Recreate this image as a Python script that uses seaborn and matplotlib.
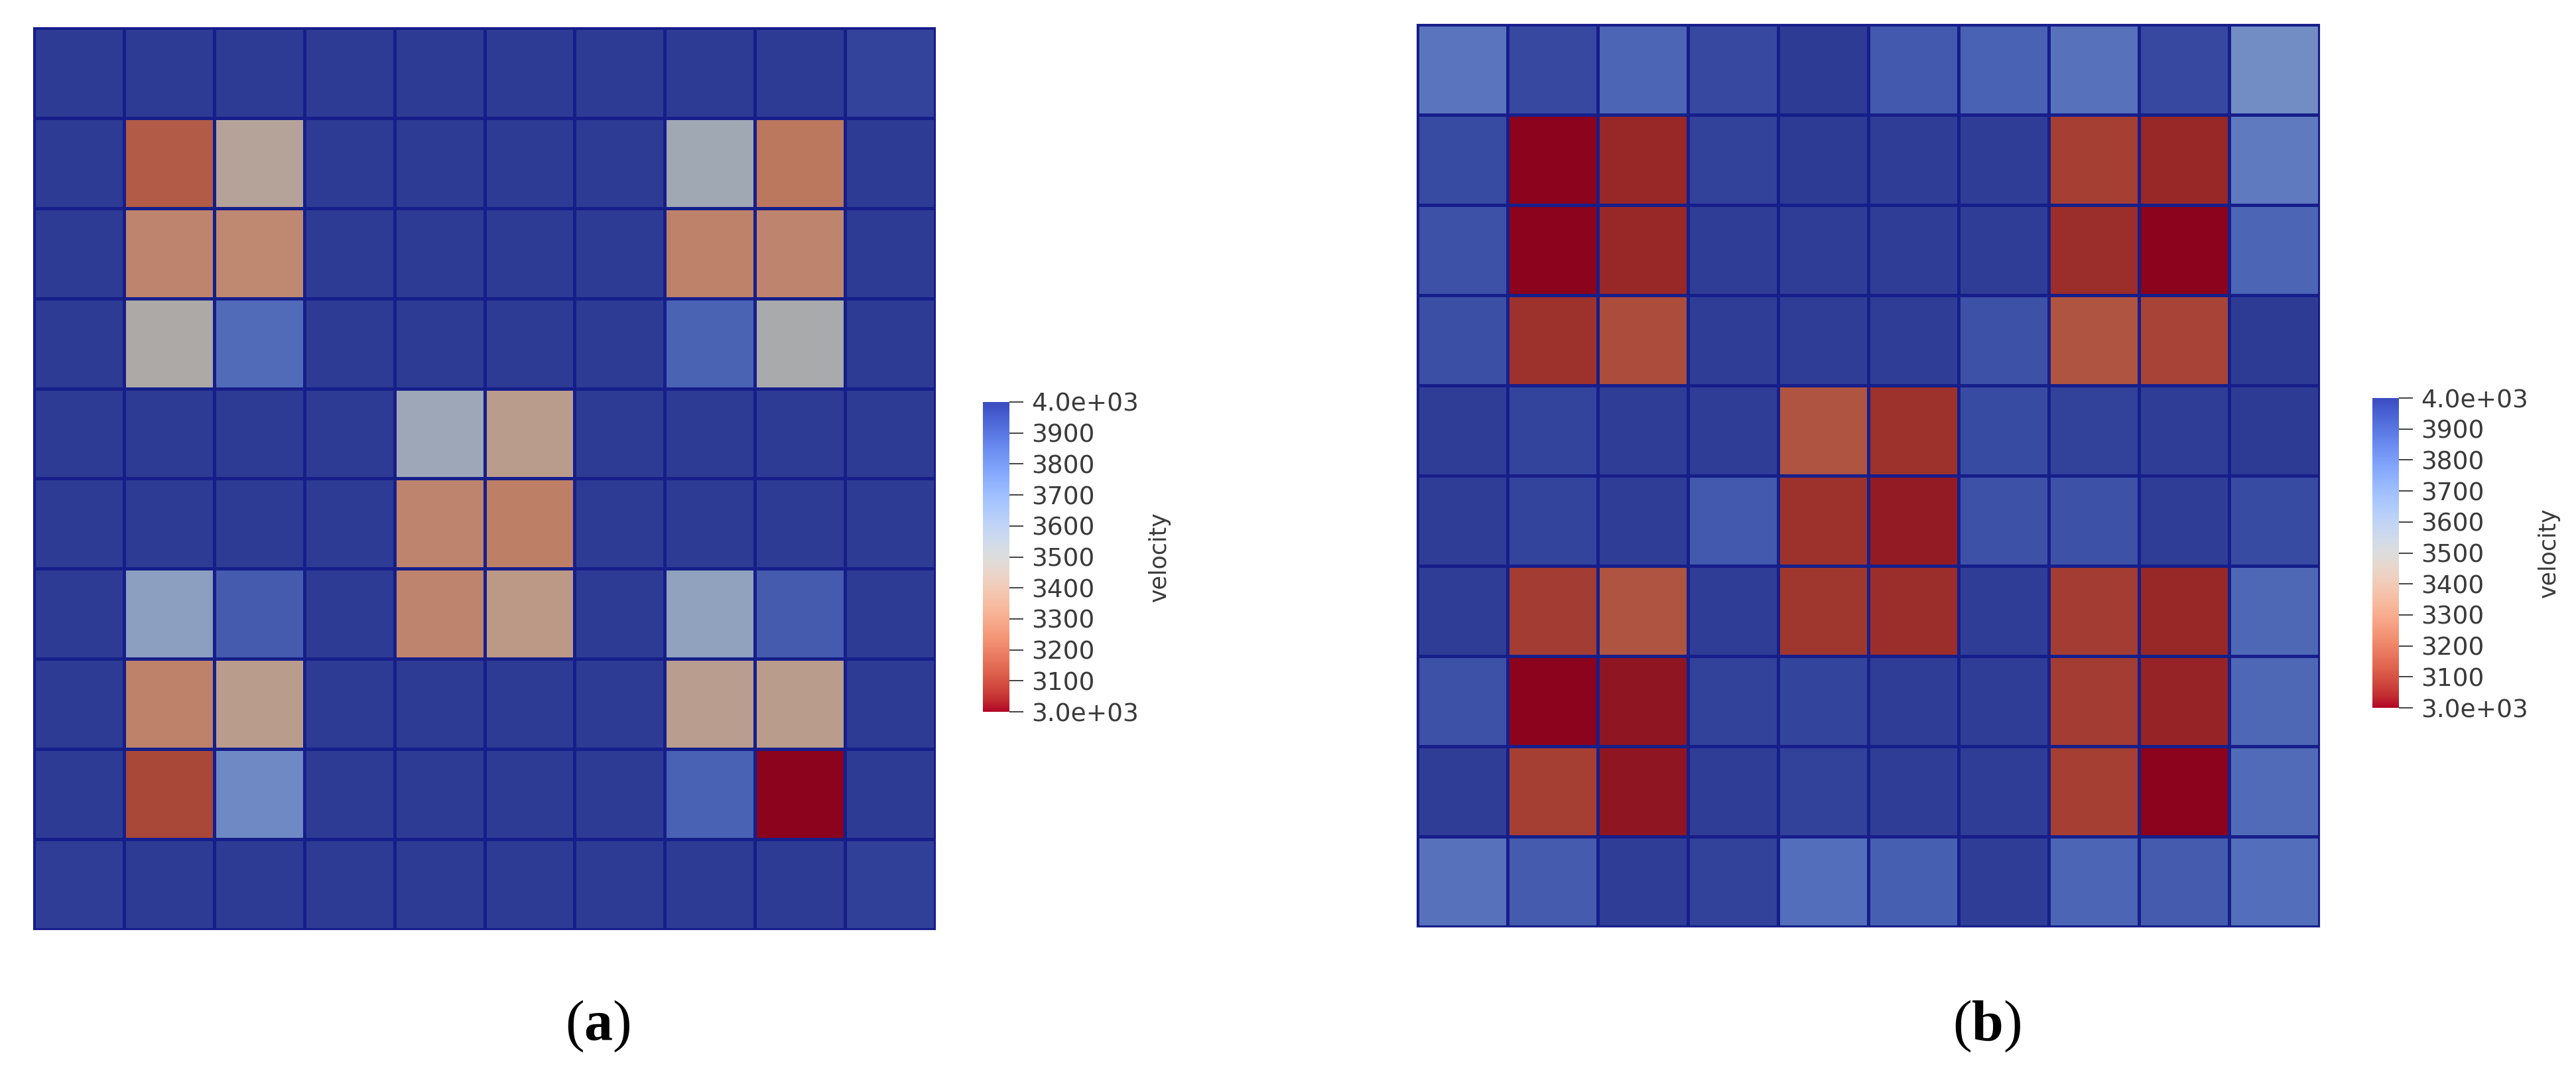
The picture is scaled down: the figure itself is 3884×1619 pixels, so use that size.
import numpy as np
import matplotlib
matplotlib.use("Agg")
import matplotlib.pyplot as plt
from matplotlib.colors import ListedColormap, Normalize
from matplotlib.cm import ScalarMappable
import seaborn as sns

sns.set_theme(style="white")
plt.rcParams['font.family'] = ['DejaVu Sans']
plt.rcParams['mathtext.fontset'] = 'custom'
plt.rcParams['mathtext.rm'] = 'Liberation Serif'
plt.rcParams['mathtext.bf'] = 'Liberation Serif:bold'

# velocity fields (10x10 cells, top row first)
velocity_a = [
    [4000, 4000, 4000, 4000, 4000, 4000, 4000, 4000, 4000, 3975],
    [4000, 3170, 3440, 4000, 4000, 4000, 4000, 3550, 3250, 4000],
    [4000, 3300, 3310, 4000, 4000, 4000, 4000, 3290, 3300, 4000],
    [4000, 3490, 3850, 4000, 4000, 4000, 4000, 3875, 3510, 4000],
    [4000, 4000, 4000, 4000, 3560, 3400, 4000, 4000, 4000, 4000],
    [4000, 4000, 4000, 4000, 3300, 3280, 4000, 4000, 4000, 4000],
    [4000, 3630, 3900, 4000, 3300, 3380, 4000, 3610, 3900, 4000],
    [4000, 3290, 3400, 4000, 4000, 4000, 4000, 3410, 3400, 4000],
    [4000, 3120, 3740, 4000, 4000, 4000, 4000, 3880, 3000, 4000],
    [3990, 4000, 4000, 4000, 4000, 4000, 4000, 4000, 4000, 3985],
]
velocity_b = [
    [3820, 3960, 3870, 3960, 4000, 3910, 3880, 3830, 3960, 3730],
    [3950, 3000, 3050, 3980, 4000, 3990, 3990, 3100, 3050, 3800],
    [3930, 3000, 3050, 3990, 3990, 3990, 3990, 3060, 3000, 3870],
    [3940, 3070, 3130, 3990, 3990, 3990, 3930, 3150, 3110, 4000],
    [3990, 3970, 3990, 3990, 3150, 3070, 3950, 3980, 3990, 4000],
    [3990, 3970, 3990, 3910, 3070, 3030, 3930, 3930, 3990, 3950],
    [3990, 3090, 3150, 3990, 3080, 3060, 3990, 3090, 3050, 3860],
    [3930, 3000, 3020, 3980, 3970, 3990, 3990, 3090, 3040, 3860],
    [3990, 3100, 3020, 3990, 3980, 3990, 3990, 3100, 3000, 3850],
    [3830, 3900, 3990, 3980, 3840, 3890, 3990, 3870, 3900, 3840],
]
cbar_ticks = [3000, 3100, 3200, 3300, 3400, 3500, 3600, 3700, 3800, 3900, 4000]
cbar_ticklabels = ["3.0e+03", "3100", "3200", "3300", "3400", "3500",
                   "3600", "3700", "3800", "3900", "4.0e+03"]
cbar_label = "velocity"
panel_labels = ["a", "b"]

vmin, vmax = 3000, 4000
base = plt.get_cmap("coolwarm_r")
cols = base(np.linspace(0, 1, 256))
cols[:, :3] *= 0.77          # shaded cell colours as rendered
cell_cmap = ListedColormap(cols)

fig = plt.figure(figsize=(38.84, 16.19), dpi=100)

ax_rects = [[0.01313, 0.1347, 0.3499, 0.8394], [0.5502, 0.1371, 0.3502, 0.8400]]
cax_rects = [[0.3816, 0.3372, 0.0103, 0.2885], [0.9210, 0.3409, 0.0103, 0.2885]]
label_pos = [(0.232, 0.0439), (0.7714, 0.0439)]

for data, r, cr, lp, name in zip([velocity_a, velocity_b], ax_rects, cax_rects,
                                 label_pos, panel_labels):
    ax = fig.add_axes(r)
    sns.heatmap(np.array(data, dtype=float), ax=ax, cmap=cell_cmap, vmin=vmin, vmax=vmax,
                cbar=False, linewidths=2.2, linecolor="#161e8a",
                xticklabels=False, yticklabels=False, square=False)
    for s in ax.spines.values():
        s.set_visible(True)
        s.set_color("#161e8a")
        s.set_linewidth(1.5)

    cax = fig.add_axes(cr)
    sm = ScalarMappable(norm=Normalize(vmin, vmax), cmap=base)
    cb = fig.colorbar(sm, cax=cax)
    cb.outline.set_visible(False)
    cb.set_ticks(cbar_ticks)
    cb.set_ticklabels(cbar_ticklabels)
    cax.tick_params(axis="y", direction="out", length=15, width=1.3, color="#333333",
                    labelsize=27, labelcolor="#3a3a3a", pad=9, right=True)
    cax.text(6.65, 0.5, cbar_label, rotation=90, transform=cax.transAxes,
             ha="center", va="center", fontsize=25, color="#3a3a3a")

    fig.text(lp[0], lp[1], "(" + r"$\mathbf{" + name + "}$" + ")",
             fontfamily="Liberation Serif", fontsize=62, ha="center", va="center",
             color="black")

fig.savefig("out.png", dpi=100, facecolor="white")
